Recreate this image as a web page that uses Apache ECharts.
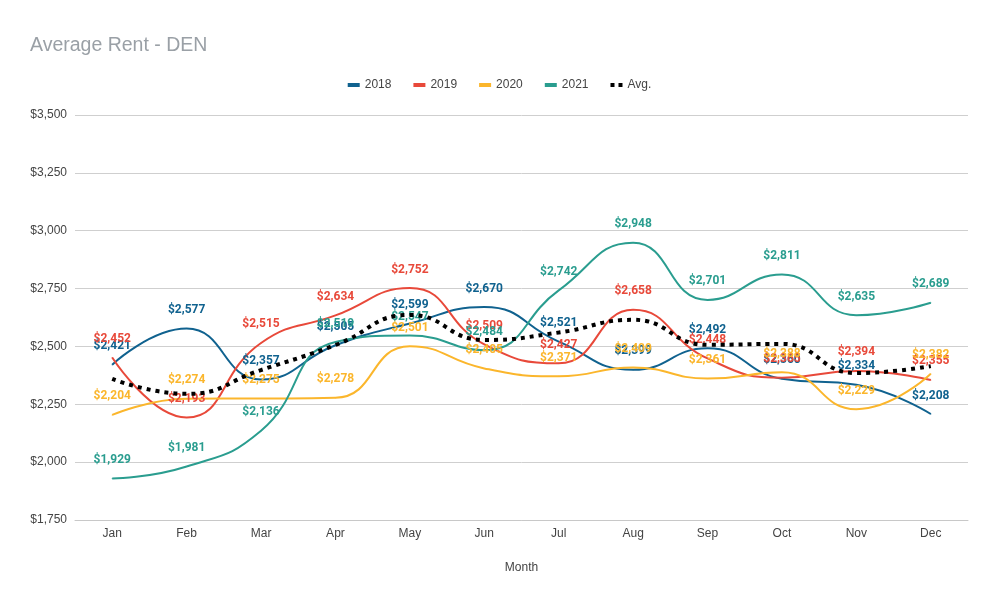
<!DOCTYPE html>
<html><head><meta charset="utf-8">
<script src="https://cdn.jsdelivr.net/npm/echarts@6/dist/echarts.min.js"></script>
<style>html,body{margin:0;padding:0;background:#fff}#c{width:999px;height:603px}</style>
</head><body><div id="c"></div>
<script>
const months = ['Jan','Feb','Mar','Apr','May','Jun','Jul','Aug','Sep','Oct','Nov','Dec'];
const s2018 = [2421,2577,2357,2505,2599,2670,2521,2399,2492,2360,2334,2208];
const s2019 = [2452,2193,2515,2634,2752,2509,2427,2658,2448,2365,2394,2355];
const s2020 = [2204,2274,2275,2278,2501,2405,2371,2409,2361,2388,2229,2382];
const s2021 = [1929,1981,2136,2519,2547,2484,2742,2948,2701,2811,2635,2689];
const avg   = [2360,2295,2398,2506,2636,2528,2560,2615,2507,2511,2385,2415];
const yTicks = {min:1750, max:3500, step:250};

const fmt = v => '$' + Number(v).toLocaleString('en-US');
function lineSeries(name, data, color){
  return {
    name, type:'line', data, smooth:0.5, symbol:'circle', symbolSize:1,
    itemStyle:{color}, lineStyle:{color, width:2},
    label:{show:true, position:'top', distance:12, color, fontFamily:'Roboto', fontWeight:'bold', fontSize:12,
      formatter:p=>fmt(p.value)},
    z:2
  };
}
const chart = echarts.init(document.getElementById('c'));
chart.setOption({
  animation:false,
  title:{text:'Average Rent - DEN', left:25, top:31, textStyle:{fontFamily:'Liberation Sans', fontWeight:'normal', fontSize:19.5, color:'#9aa0a6'}},
  legend:{top:74, left:'center', itemWidth:12, itemHeight:4, itemGap:22,
    textStyle:{fontFamily:'Liberation Sans', fontSize:12, color:'#444'},
    data:[
      {name:'2018', icon:'rect'},{name:'2019', icon:'rect'},{name:'2020', icon:'rect'},{name:'2021', icon:'rect'},
      {name:'Avg.', icon:'path://M0,0h4v4h-4z M8,0h4v4h-4z', itemStyle:{color:'#000'}}
    ]},
  grid:{left:75, right:31, top:115, bottom:83, containLabel:false},
  xAxis:{type:'category', data:months, boundaryGap:true, name:'Month', nameLocation:'middle', nameGap:42,
    nameTextStyle:{fontFamily:'Liberation Sans', fontSize:12, color:'#444'},
    axisLine:{lineStyle:{color:'#c8c8c8'}}, axisTick:{show:false},
    axisLabel:{fontFamily:'Liberation Sans', fontSize:12, color:'#444', margin:8}},
  yAxis:{type:'value', min:yTicks.min, max:yTicks.max, interval:yTicks.step,
    axisLine:{show:false}, axisTick:{show:false},
    splitLine:{lineStyle:{color:'#cfcfcf'}},
    axisLabel:{fontFamily:'Liberation Sans', fontSize:12, color:'#444', margin:8, formatter:fmt}},
  series:[
    lineSeries('2018', s2018, '#10628f'),
    lineSeries('2019', s2019, '#e8493a'),
    lineSeries('2020', s2020, '#fbb62c'),
    lineSeries('2021', s2021, '#2a9d8f'),
    {name:'Avg.', type:'line', data:avg, smooth:0.5, symbol:'none', itemStyle:{color:'#000'},
      lineStyle:{color:'#000', width:4, type:[4,5], cap:'butt'}, z:3}
  ]
});
</script></body></html>
